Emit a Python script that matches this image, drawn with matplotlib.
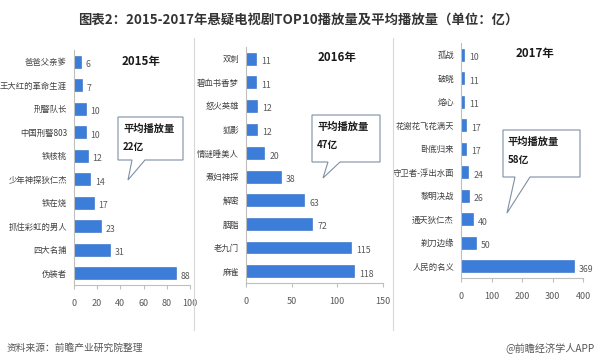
import matplotlib
matplotlib.use("Agg")
import matplotlib.pyplot as plt
from matplotlib.patches import Polygon

plt.rcParams['font.family'] = ['Noto Sans CJK SC', 'DejaVu Sans']

title = "图表2：2015-2017年悬疑电视剧TOP10播放量及平均播放量（单位：亿）"

names_2015 = ["爸爸父亲爹", "王大红的革命生涯", "刑警队长", "中国刑警803", "铁核桃",
              "少年神探狄仁杰", "铁在烧", "抓住彩虹的男人", "四大名捕", "伪装者"]
values_2015 = [6, 7, 10, 10, 12, 14, 17, 23, 31, 88]
names_2016 = ["双刺", "碧血书香梦", "怒火英雄", "狐影", "情谜睡美人",
              "煮妇神探", "解密", "胭脂", "老九门", "麻雀"]
values_2016 = [11, 11, 12, 12, 20, 38, 63, 72, 115, 118]
names_2017 = ["孤战", "破晓", "熔心", "花谢花飞花满天", "卧底归来",
              "守卫者-浮出水面", "黎明决战", "通天狄仁杰", "剃刀边缘", "人民的名义"]
values_2017 = [10, 11, 11, 17, 17, 24, 26, 40, 50, 369]
years = ["2015年", "2016年", "2017年"]
averages = ["22亿", "47亿", "58亿"]
xticks_2015 = [0, 20, 40, 60, 80, 100]
xticks_2016 = [0, 50, 100, 150]
xticks_2017 = [0, 100, 200, 300, 400]

W, H = 600, 363
fig = plt.figure(figsize=(W / 100, H / 100), dpi=100)
fig.patch.set_facecolor('white')

def px_axes(l, t, r, b, **kw):
    return fig.add_axes([l / W, 1 - b / H, (r - l) / W, (b - t) / H], **kw)

BAR = '#3B7DD8'
GRAY = '#595959'
AX = '#BFBFBF'

panels = [
    (names_2015, values_2015, xticks_2015, (74, 50, 190, 285)),
    (names_2016, values_2016, xticks_2016, (246, 47, 383, 283)),
    (names_2017, values_2017, xticks_2017, (461, 43, 583, 278)),
]

for names, vals, xt, box in panels:
    ax = px_axes(*box)
    n = len(names)
    ys = list(range(n))
    ax.barh(ys, vals, height=0.5, color=BAR, edgecolor='#2F6CC4', linewidth=0.4)
    ax.set_ylim(n - 0.5, -0.5)
    ax.set_xlim(xt[0], xt[-1])
    ax.set_xticks(xt)
    ax.set_xticklabels([str(v) for v in xt], fontsize=6.5, color=GRAY)
    ax.set_yticks(ys)
    ax.set_yticklabels(names, fontsize=6.0, color='#404040')
    ax.tick_params(axis='y', length=0, pad=5)
    ax.tick_params(axis='x', length=3, color=AX, pad=7)
    for s in ['top', 'right']:
        ax.spines[s].set_visible(False)
    ax.spines['left'].set_color(AX)
    ax.spines['bottom'].set_color(AX)
    ax.spines['left'].set_linewidth(0.8)
    ax.spines['bottom'].set_linewidth(0.8)
    off = xt[-1] * 0.04
    for y, v in zip(ys, vals):
        ax.text(v + off, y + 0.12, str(v), fontsize=6.3, color=GRAY, va='center', ha='left')
    ax.patch.set_alpha(0)

ov = fig.add_axes([0, 0, 1, 1], zorder=10)
ov.set_xlim(0, W)
ov.set_ylim(H, 0)
ov.axis('off')
ov.patch.set_alpha(0)

# panel separators
for x in [194, 393]:
    ov.plot([x, x], [38, 330], color='#D9D9D9', lw=0.8)

ov.text(298, 20, title, fontsize=9.6, fontweight='bold', color='#333333', ha='center', va='center')

year_pos = [(141, 62), (337, 58), (535, 53)]
for (x, y), yr in zip(year_pos, years):
    ov.text(x, y, yr, fontsize=8.3, fontweight='bold', color='#1A1A1A', ha='center', va='center')

callouts = [
    ((118, 117, 183, 160), (132, 145), (128, 180)),
    ((312, 115, 380, 162), (328, 340), (323, 178)),
    ((503, 130, 580, 177), (515, 530), (507, 213)),
]
for (l, t, r, b), (b1, b2), tip, avg in [(c[0], c[1], c[2], a) for c, a in zip(callouts, averages)]:
    pts = [(l, t), (r, t), (r, b), (b2, b), tip, (b1, b), (l, b)]
    ov.add_patch(Polygon(pts, closed=True, facecolor='white', edgecolor='#7F8FA6', lw=0.8))
    ov.text(l + 5, t + 12, "平均播放量", fontsize=7.4, fontweight='bold', color='#1A1A1A', va='center', ha='left')
    ov.text(l + 5, t + 30, avg, fontsize=7, fontweight='bold', color='#1A1A1A', va='center', ha='left')

ov.text(7, 348, "资料来源：前瞻产业研究院整理", fontsize=7.0, color='#555555', style='italic', va='center', ha='left')
ov.text(595, 348, "@前瞻经济学人APP", fontsize=7.3, color='#555555', va='center', ha='right')

fig.savefig("out.png", dpi=100, facecolor='white')
